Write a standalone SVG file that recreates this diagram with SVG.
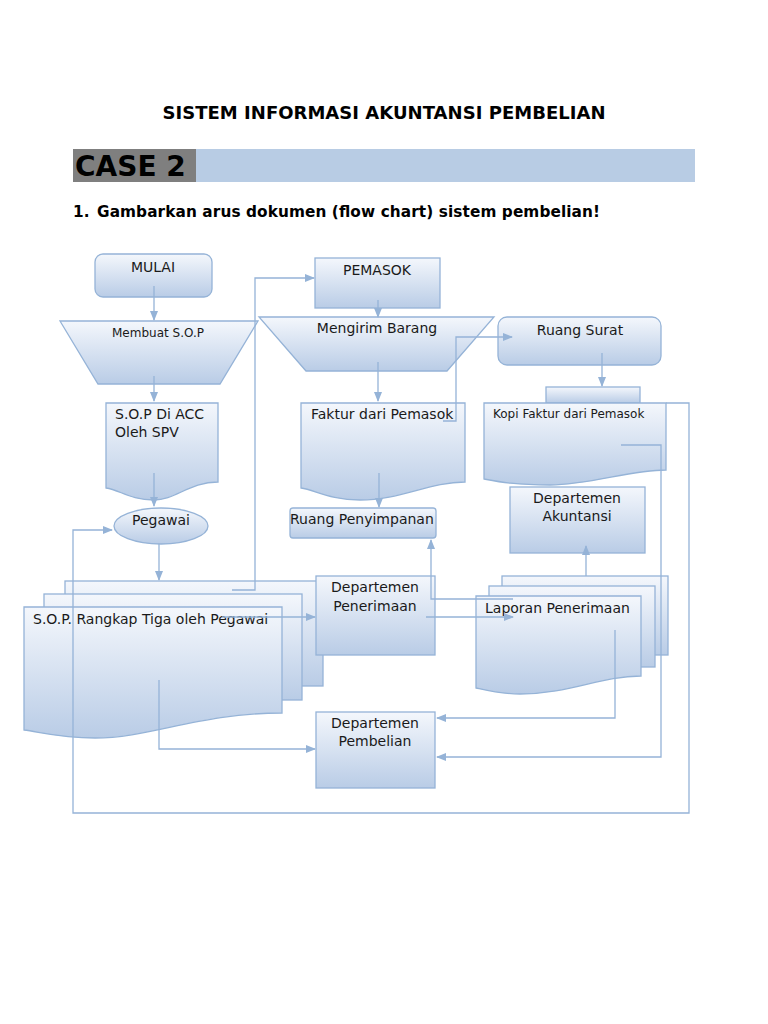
<svg xmlns="http://www.w3.org/2000/svg" width="768" height="1024" viewBox="0 0 768 1024">
<defs>
<linearGradient id="g" x1="0" y1="0" x2="0" y2="1"><stop offset="0" stop-color="#f4f7fc"/><stop offset="1" stop-color="#b9cce6"/></linearGradient>
<marker id="a" markerWidth="10" markerHeight="8" refX="9" refY="4" orient="auto" markerUnits="userSpaceOnUse"><path d="M0,0 L10,4 L0,8 z" fill="#95b3d7"/></marker>
<style>
.n{fill:url(#g);stroke:#95b3d7;stroke-width:1.3}
.t{font-family:"DejaVu Sans",sans-serif;font-size:14px;fill:#1a1a1a}
.s{font-size:12px}
.c{text-anchor:middle}
.l2{fill:none;stroke:#95b3d7;stroke-width:1.3;marker-end:url(#a)}
</style>
</defs>
<rect width="768" height="1024" fill="#fff"/>
<text x="384" y="119" text-anchor="middle" font-family="DejaVu Sans,sans-serif" font-weight="bold" font-size="18" textLength="443">SISTEM INFORMASI AKUNTANSI PEMBELIAN</text>
<rect x="73" y="149" width="123" height="33" fill="#7f7f7f"/>
<rect x="196" y="149" width="499" height="33" fill="#b8cce4"/>
<text x="75" y="176" font-family="DejaVu Sans,sans-serif" font-weight="bold" font-size="28">CASE 2</text>
<text x="73" y="217" font-family="DejaVu Sans,sans-serif" font-weight="bold" font-size="15.3">1.</text>
<text x="97" y="217" font-family="DejaVu Sans,sans-serif" font-weight="bold" font-size="15.3" textLength="503">Gambarkan arus dokumen (flow chart) sistem pembelian!</text>

<g id="mulai"><rect class="n" x="95" y="254" width="117" height="43" rx="8"/><text class="t c" x="153" y="272">MULAI</text></g>
<g id="membuat"><path class="n" d="M60,321 H258 L220,384 H98 Z"/><text class="t c s" x="158" y="337">Membuat S.O.P</text></g>
<g id="sopacc"><path class="n" d="M106,403 H218 V482 C190,482 175,500 154,500 C130,500 120,490 106,488 Z"/><text class="t" x="115" y="419">S.O.P Di ACC</text><text class="t" x="115" y="437">Oleh SPV</text></g>
<g id="pegawai"><ellipse class="n" cx="161" cy="526" rx="47" ry="18"/><text class="t c" x="161" y="525">Pegawai</text></g>
<g id="soprangkap">
<rect class="n" x="65" y="581" width="258" height="105"/>
<rect class="n" x="44" y="594" width="258" height="106"/>
<path class="n" d="M24,607 H282 V713 C200,713 150,738 95,738 C60,738 40,732 24,730 Z"/>
<text class="t" x="33" y="624">S.O.P. Rangkap Tiga oleh Pegawai</text></g>
<g id="pemasok"><rect class="n" x="315" y="258" width="125" height="50"/><text class="t c" x="377" y="275">PEMASOK</text></g>
<g id="mengirim"><path class="n" d="M259,317 H494 L447,371 H306 Z"/><text class="t c" x="377" y="333">Mengirim Barang</text></g>
<g id="faktur"><path class="n" d="M301,403 H465 V482 C430,482 400,500 360,500 C330,500 315,490 301,488 Z"/><text class="t" x="311" y="419">Faktur dari Pemasok</text></g>
<g id="ruangpenyimpanan"><rect class="n" x="290" y="508" width="146" height="30" rx="3"/><text class="t" x="290" y="524">Ruang Penyimpanan</text></g>
<g id="ruangsurat"><rect class="n" x="498" y="317" width="163" height="48" rx="9"/><text class="t c" x="580" y="335">Ruang Surat</text></g>
<g id="kopifaktur"><rect class="n" x="546" y="387" width="94" height="16"/><path class="n" d="M484,403 H666 V470 C630,470 590,485 550,485 C515,485 500,482 484,479 Z"/><text class="t s" x="493" y="418">Kopi Faktur dari Pemasok</text></g>
<g id="akuntansi"><rect class="n" x="510" y="487" width="135" height="66"/><text class="t c" x="577" y="503">Departemen</text><text class="t c" x="577" y="521">Akuntansi</text></g>
<g id="laporan">
<rect class="n" x="502" y="576" width="166" height="79"/>
<rect class="n" x="489" y="586" width="166" height="81"/>
<path class="n" d="M476,596 H641 V676 C600,676 570,694 520,694 C500,694 485,690 476,688 Z"/>
<text class="t" x="485" y="613">Laporan Penerimaan</text></g>
<g id="penerimaan"><rect class="n" x="316" y="576" width="119" height="79"/><text class="t c" x="375" y="592">Departemen</text><text class="t c" x="375" y="611">Penerimaan</text></g>
<g id="pembelian"><rect class="n" x="316" y="712" width="119" height="76"/><text class="t c" x="375" y="728">Departemen</text><text class="t c" x="375" y="746">Pembelian</text></g>

<g id="connectors">
<path class="l2" d="M154,286 V320"/>
<path class="l2" d="M154,376 V401"/>
<path class="l2" d="M154,473 V506"/>
<path class="l2" d="M159,544 V580"/>
<path class="l2" d="M232,590 H255 V278 H314"/>
<path class="l2" d="M378,300 V317"/>
<path class="l2" d="M378,362 V401"/>
<path class="l2" d="M443,421 H456 V337 H512"/>
<path class="l2" d="M602,353 V386"/>
<path class="l2" d="M379,473 V507"/>
<path class="l2" d="M666,403 H689 V813 H73 V530 H112"/>
<path class="l2" d="M621,445 H661 V757 H437"/>
<path class="l2" d="M586,576 V546"/>
<path class="l2" d="M222,617 H315"/>
<path class="l2" d="M426,617 H513"/>
<path class="l2" d="M513,599 H431 V540"/>
<path class="l2" d="M615,630 V718 H437"/>
<path class="l2" d="M159,680 V749 H315"/>
</g>
</svg>
